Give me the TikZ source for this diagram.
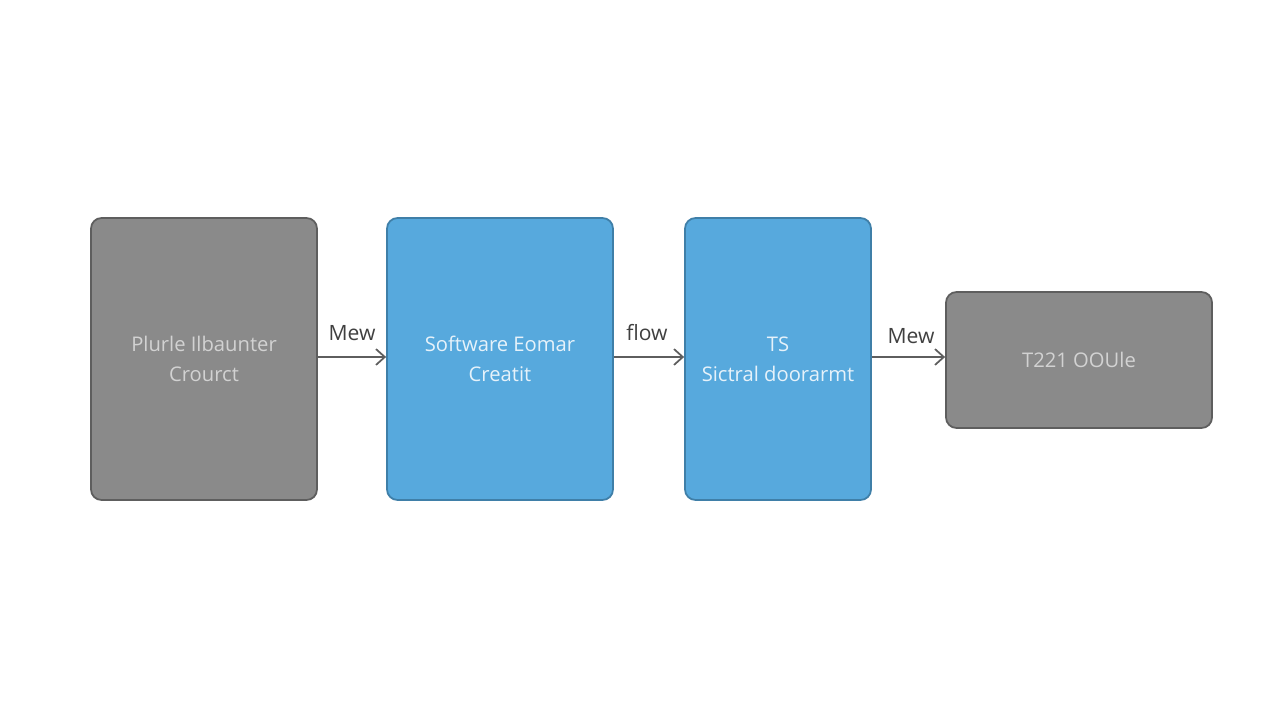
\documentclass[tikz,border=0pt]{standalone}
\usepackage{fontspec}
\setmainfont{Open Sans}
\usetikzlibrary{arrows.meta}
\definecolor{gbox}{HTML}{8A8A8A}
\definecolor{gline}{HTML}{5E5E5E}
\definecolor{bbox}{HTML}{57A9DD}
\definecolor{bline}{HTML}{3F7FA8}
\definecolor{gtext}{HTML}{D2D2D2}
\definecolor{btext}{HTML}{E6F2FA}
\tikzset{
 gray box/.style={draw=gline,line width=1pt,fill=gbox,rounded corners=6pt,text=gtext,align=center,font=\fontsize{11.5}{17}\selectfont},
 blue box/.style={draw=bline,line width=1pt,fill=bbox,rounded corners=6pt,text=btext,align=center,font=\fontsize{11.5}{17}\selectfont},
 conn/.style={draw=gline,line width=1pt,-{Straight Barb[length=5pt,width=9pt]}},
 lbl/.style={text=black!75,font=\fontsize{12}{14}\selectfont}
}
\begin{document}
\begin{tikzpicture}[x=0.02cm,y=-0.02cm]
\useasboundingbox[fill=white] (0,0) rectangle (1280,720);
\node[gray box,minimum width=226*0.02cm,minimum height=282*0.02cm] (a) at (204,359) {Plurle Ilbaunter\\Crourct};
\node[blue box,minimum width=226*0.02cm,minimum height=282*0.02cm] (b) at (500,359) {Software Eomar\\Creatit};
\node[blue box,minimum width=186*0.02cm,minimum height=282*0.02cm] (c) at (778,359) {TS\\Sictral doorarmt};
\node[gray box,minimum width=266*0.02cm,minimum height=136*0.02cm] (d) at (1079,360) {T221 OOUle};
\draw[conn] (a.east|-0,357) -- (b.west|-0,357);
\draw[conn] (b.east|-0,357) -- (c.west|-0,357);
\draw[conn] (c.east|-0,357) -- (d.west|-0,357);
\node[lbl] (l1) at (352,333) {Mew};
\node[lbl] (l2) at (647,333) {flow};
\node[lbl] (l3) at (911,336) {Mew};
\end{tikzpicture}
\end{document}
